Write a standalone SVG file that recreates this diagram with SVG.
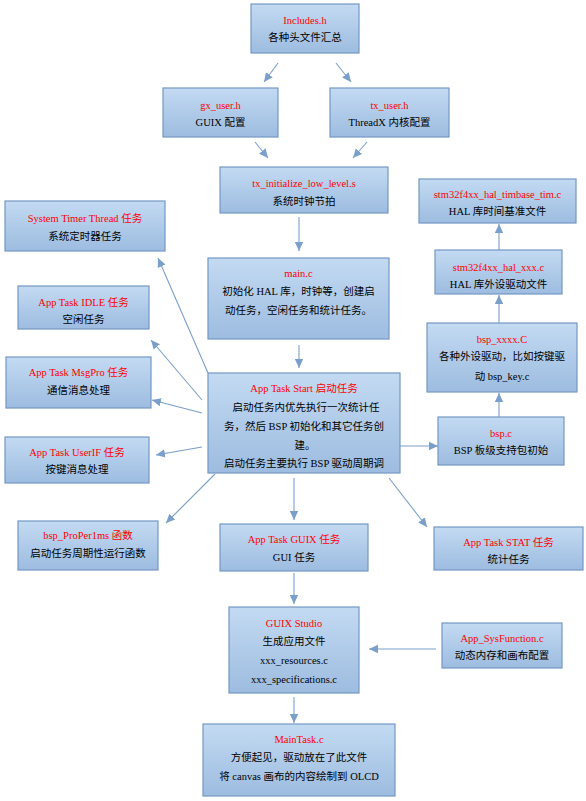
<svg xmlns="http://www.w3.org/2000/svg" width="586" height="801" viewBox="0 0 586 801">
<defs>
<linearGradient id="g" x1="0" y1="0" x2="0" y2="1">
<stop offset="0" stop-color="#C3DAF2"/>
<stop offset="1" stop-color="#9DBCE0"/>
</linearGradient>
<marker id="ah" markerUnits="userSpaceOnUse" markerWidth="10" markerHeight="10" viewBox="0 0 10 10" refX="9" refY="5" orient="auto">
<path d="M0,0.8 L9,5 L0,9.2 z" fill="#7A9FCB"/>
</marker>
<style>
.box{fill:url(#g);stroke:#7398C4;stroke-width:1.2}
text{font-family:"Liberation Serif","Noto Sans CJK SC",serif;font-size:10.5px;text-anchor:middle;fill:#000}
.t{fill:#FF0000}
.c line{stroke:#7A9FCB;stroke-width:1.1;marker-end:url(#ah)}
</style>
</defs>
<rect width="586" height="801" fill="#fff"/>

<g class="c" id="connectors">
<line x1="278" y1="63" x2="264" y2="82"/>
<line x1="336" y1="63" x2="351" y2="82"/>
<line x1="255" y1="142" x2="268" y2="158"/>
<line x1="367" y1="142" x2="353" y2="158"/>
<line x1="299" y1="217" x2="299" y2="251"/>
<line x1="299" y1="345" x2="299" y2="368"/>
<line x1="208" y1="373" x2="158" y2="258"/>
<line x1="202" y1="400" x2="151" y2="340"/>
<line x1="202" y1="413" x2="152" y2="400"/>
<line x1="202" y1="447" x2="156" y2="455"/>
<line x1="215" y1="474" x2="166" y2="523"/>
<line x1="294" y1="478" x2="294" y2="520"/>
<line x1="389" y1="478" x2="427" y2="527"/>
<line x1="400" y1="446" x2="438" y2="446"/>
<line x1="499" y1="417" x2="499" y2="393"/>
<line x1="499" y1="323" x2="499" y2="295"/>
<line x1="499" y1="250" x2="499" y2="224"/>
<line x1="294" y1="573" x2="294" y2="604"/>
<line x1="436" y1="649" x2="369" y2="649"/>
<line x1="294" y1="697" x2="294" y2="723"/>
</g>

<g id="includes"><rect class="box" x="251" y="4" width="108" height="49"/>
<text class="t" x="305" y="24">Includes.h</text><text x="305" y="41">各种头文件汇总</text></g>

<g id="gx_user"><rect class="box" x="163" y="88" width="115" height="49"/>
<text class="t" x="220.5" y="109">gx_user.h</text><text x="220.5" y="126">GUIX 配置</text></g>

<g id="tx_user"><rect class="box" x="330" y="88" width="119" height="49"/>
<text class="t" x="389.5" y="109">tx_user.h</text><text x="389.5" y="126">ThreadX 内核配置</text></g>

<g id="tx_init"><rect class="box" x="220" y="167" width="168" height="46"/>
<text class="t" x="304" y="187">tx_initialize_low_level.s</text><text x="304" y="205">系统时钟节拍</text></g>

<g id="timbase"><rect class="box" x="419" y="179" width="157" height="44"/>
<text class="t" x="497.5" y="198">stm32f4xx_hal_timbase_tim.c</text><text x="497.5" y="215">HAL 库时间基准文件</text></g>

<g id="hal_xxx"><rect class="box" x="435" y="250" width="127" height="44"/>
<text class="t" x="498.5" y="271">stm32f4xx_hal_xxx.c</text><text x="498.5" y="288">HAL 库外设驱动文件</text></g>

<g id="bsp_xxxx"><rect class="box" x="427" y="323" width="150" height="69"/>
<text class="t" x="502" y="343">bsp_xxxx.C</text><text x="502" y="360">各种外设驱动，比如按键驱</text><text x="502" y="380">动 bsp_key.c</text></g>

<g id="bsp"><rect class="box" x="438" y="417" width="126" height="48"/>
<text class="t" x="501" y="437">bsp.c</text><text x="501" y="454">BSP 板级支持包初始</text></g>

<g id="main_c"><rect class="box" x="208" y="258" width="181" height="81"/>
<text class="t" x="298.5" y="277">main.c</text><text x="298.5" y="295">初始化 HAL 库，时钟等，创建启</text><text x="298.5" y="314">动任务，空闲任务和统计任务。</text></g>

<g id="systimer"><rect class="box" x="5" y="201" width="160" height="50"/>
<text class="t" x="85" y="222">System Timer Thread 任务</text><text x="85" y="240">系统定时器任务</text></g>

<g id="idle"><rect class="box" x="18" y="286" width="131" height="43"/>
<text class="t" x="83.5" y="306">App Task IDLE 任务</text><text x="83.5" y="323">空闲任务</text></g>

<g id="msgpro"><rect class="box" x="6" y="357" width="145" height="51"/>
<text class="t" x="78.5" y="376">App Task MsgPro 任务</text><text x="78.5" y="394">通信消息处理</text></g>

<g id="userif"><rect class="box" x="5" y="437" width="144" height="46"/>
<text class="t" x="77" y="456">App Task UserIF 任务</text><text x="77" y="473">按键消息处理</text></g>

<g id="start"><rect class="box" x="208" y="373" width="192" height="100"/>
<text class="t" x="304" y="392">App Task Start 启动任务</text>
<text x="306" y="411">启动任务内优先执行一次统计任</text>
<text x="304" y="430">务，然后 BSP 初始化和其它任务创</text>
<text x="305" y="449">建。</text>
<text x="304" y="467">启动任务主要执行 BSP 驱动周期调</text></g>

<g id="proper"><rect class="box" x="18" y="521" width="140" height="49"/>
<text class="t" x="88" y="539">bsp_ProPer1ms 函数</text><text x="88" y="557">启动任务周期性运行函数</text></g>

<g id="guix_task"><rect class="box" x="220" y="524" width="148" height="47"/>
<text class="t" x="294" y="543">App Task GUIX 任务</text><text x="294" y="561">GUI 任务</text></g>

<g id="stat"><rect class="box" x="434" y="527" width="149" height="43"/>
<text class="t" x="508.5" y="546">App Task STAT 任务</text><text x="508.5" y="563">统计任务</text></g>

<g id="studio"><rect class="box" x="229" y="607" width="130" height="86"/>
<text class="t" x="294" y="627">GUIX Studio</text><text x="294" y="645">生成应用文件</text><text x="294" y="664">xxx_resources.c</text><text x="294" y="683">xxx_specifications.c</text></g>

<g id="sysfunc"><rect class="box" x="442" y="623" width="120" height="45"/>
<text class="t" x="502" y="642">App_SysFunction.c</text><text x="502" y="659">动态内存和画布配置</text></g>

<g id="maintask"><rect class="box" x="203" y="724" width="192" height="72"/>
<text class="t" x="299" y="743">MainTask.c</text><text x="299" y="761">方便起见，驱动放在了此文件</text><text x="299" y="780">将 canvas 画布的内容绘制到 OLCD</text></g>
</svg>
